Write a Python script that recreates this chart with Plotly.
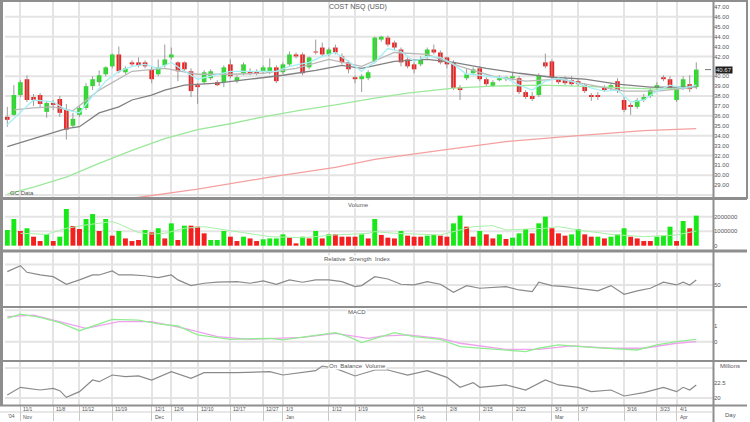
import plotly.graph_objects as go

W, H = 750, 422

# ---------------- data ----------------
opens = [35.9, 36.1, 38.1, 39.7, 37.9, 38.1, 36.4, 37.3, 37.7, 36.6,
         35.0, 36.1, 36.8, 39.0, 39.4, 40.2, 41.0, 42.2, 40.4, 41.4,
         41.4, 41.4, 40.7, 40.2, 41.1, 41.9, 41.4, 41.4, 40.5, 39.1,
         39.4, 39.8, 39.4, 39.4, 41.2, 39.5, 40.3, 40.5, 40.5, 40.5,
         40.4, 40.9, 40.4, 41.2, 42.2, 42.2, 40.9, 42.5, 42.9, 42.2,
         42.9, 42.0, 41.4, 39.9, 39.7, 39.8, 41.5, 43.7, 43.9, 43.4,
         42.7, 41.7, 41.2, 41.2, 42.0, 42.7, 42.4, 41.9, 41.4, 38.9,
         39.8, 40.3, 40.8, 39.7, 39.0, 39.6, 39.7, 39.8, 39.8, 38.4,
         38.0, 38.1, 41.4, 41.5, 39.7, 39.7, 39.6, 39.5, 39.1, 38.1,
         38.1, 38.9, 38.8, 39.5, 37.6, 37.1, 36.9, 37.6, 38.0, 38.8,
         39.9, 39.7, 37.6, 38.8, 39.2, 38.9]
highs = [36.9, 39.1, 39.6, 40.1, 38.2, 38.3, 37.5, 37.6, 38.0, 37.2,
         36.3, 37.0, 39.3, 40.0, 40.6, 41.0, 42.3, 43.0, 41.0, 41.6,
         41.9, 41.6, 41.0, 41.7, 43.2, 42.9, 41.5, 41.5, 40.8, 39.3,
         40.6, 40.7, 39.6, 41.1, 41.7, 40.1, 41.4, 40.8, 40.7, 41.1,
         41.8, 41.1, 41.4, 42.5, 42.4, 42.4, 42.0, 43.7, 43.4, 42.9,
         43.2, 42.3, 41.6, 40.1, 40.2, 40.6, 44.0, 44.1, 44.1, 43.6,
         42.9, 41.9, 41.4, 42.0, 42.9, 43.2, 42.6, 42.0, 41.6, 39.1,
         40.8, 40.9, 41.0, 39.9, 39.6, 40.1, 40.0, 40.4, 40.0, 38.6,
         38.4, 40.3, 42.3, 41.7, 39.9, 40.0, 40.0, 39.7, 39.3, 38.3,
         38.4, 39.1, 39.3, 39.8, 38.0, 37.3, 37.8, 38.2, 38.8, 39.4,
         40.1, 40.0, 38.9, 40.0, 40.1, 41.4]
lows = [34.9, 36.0, 37.9, 37.4, 37.0, 36.8, 35.8, 36.6, 35.9, 33.6,
        34.8, 35.9, 36.6, 38.6, 39.0, 40.0, 40.8, 40.3, 40.2, 41.0,
        40.9, 40.8, 39.3, 40.0, 40.9, 41.7, 39.5, 40.4, 37.9, 37.2,
        39.2, 39.6, 39.0, 38.9, 39.8, 39.3, 40.1, 40.1, 40.1, 40.3,
        40.2, 39.3, 40.2, 41.0, 41.8, 40.1, 40.7, 42.2, 42.0, 42.0,
        42.2, 41.2, 40.3, 39.3, 38.4, 39.6, 41.3, 43.5, 43.0, 42.6,
        41.0, 40.8, 40.3, 41.0, 41.8, 42.2, 41.2, 40.8, 38.6, 37.6,
        39.6, 40.1, 39.5, 39.0, 38.9, 39.5, 39.5, 39.6, 38.2, 37.7,
        37.5, 37.9, 40.8, 39.7, 39.2, 39.1, 39.0, 39.0, 38.3, 37.5,
        37.6, 38.4, 38.6, 38.3, 36.4, 36.1, 36.7, 37.4, 37.8, 38.6,
        39.5, 38.6, 37.4, 38.6, 38.4, 38.7]
closes = [35.6, 38.1, 39.4, 37.6, 37.6, 37.2, 37.3, 37.1, 36.3, 34.6,
          35.7, 36.8, 39.0, 39.7, 40.1, 40.9, 42.2, 40.5, 40.8, 41.2,
          41.1, 41.0, 39.7, 40.9, 41.7, 42.2, 40.5, 40.7, 38.5, 38.9,
          40.4, 40.5, 39.1, 40.9, 40.0, 39.9, 41.2, 40.3, 40.3, 40.9,
          40.9, 39.5, 41.2, 42.2, 42.0, 40.3, 41.9, 42.4, 42.2, 42.7,
          42.4, 41.4, 40.7, 39.7, 40.0, 40.4, 43.9, 44.0, 43.2, 42.9,
          41.4, 41.0, 40.7, 41.7, 42.7, 42.4, 41.4, 41.2, 38.8, 38.6,
          40.2, 40.7, 39.7, 39.2, 39.4, 39.8, 39.9, 40.0, 38.4, 37.9,
          37.7, 40.1, 41.0, 39.9, 39.4, 39.3, 39.2, 39.2, 38.5, 37.9,
          37.9, 38.6, 39.1, 38.5, 36.6, 36.9, 37.6, 37.9, 38.6, 39.1,
          39.7, 38.8, 38.7, 39.7, 38.7, 40.67]

volumes = [1080000, 1840000, 1010000, 1200000, 620000, 320000, 780000, 320000, 620000, 2530000,
           1360000, 1150000, 1840000, 2180000, 1010000, 1840000, 690000, 1010000, 500000, 320000,
           390000, 1080000, 920000, 1200000, 500000, 1540000, 390000, 1380000, 1380000, 1310000,
           850000, 390000, 390000, 1010000, 620000, 320000, 620000, 500000, 320000, 440000,
           500000, 500000, 780000, 550000, 160000, 620000, 500000, 1010000, 500000, 780000,
           780000, 620000, 620000, 620000, 780000, 500000, 1840000, 740000, 550000, 500000,
           1010000, 690000, 620000, 620000, 690000, 740000, 690000, 620000, 1540000, 2070000,
           1310000, 620000, 1010000, 780000, 500000, 780000, 460000, 550000, 850000, 1150000,
           850000, 1540000, 2000000, 1200000, 850000, 690000, 780000, 1150000, 780000, 620000,
           620000, 500000, 620000, 780000, 1200000, 620000, 500000, 320000, 320000, 620000,
           690000, 1310000, 320000, 1700000, 1200000, 2070000]
volume_up = [1, 1, 0, 1, 0, 0, 1, 0, 1, 1,
             0, 0, 1, 1, 0, 1, 0, 1, 0, 0,
             0, 1, 0, 1, 0, 1, 0, 1, 0, 0,
             0, 1, 1, 1, 0, 0, 1, 0, 0, 1,
             1, 1, 1, 0, 0, 1, 0, 1, 0, 1,
             0, 0, 0, 0, 1, 0, 1, 0, 0, 0,
             1, 0, 0, 0, 1, 1, 0, 0, 1, 1,
             0, 0, 1, 0, 0, 1, 0, 1, 1, 1,
             0, 1, 1, 0, 0, 0, 1, 1, 0, 0,
             1, 0, 1, 1, 1, 0, 0, 0, 0, 1,
             1, 1, 0, 1, 0, 1]

# moving averages (sampled where they were read)
ma5_idx = [0, 2, 4, 7, 9, 11, 13, 15, 17, 19, 21, 23, 25, 27, 29, 31, 34, 37, 41, 43, 46, 48, 50, 52, 54, 55,
           56, 58, 60, 62, 64, 66, 68, 70, 71, 73, 76, 78, 80, 82, 84, 86, 89, 91, 93, 95, 97, 99, 101, 103, 105]
ma5_val = [35.1, 36.3, 37.6, 37.4, 36.6, 36.3, 38.0, 39.5, 40.5, 41.0, 41.2, 40.8, 41.4, 40.5, 39.7, 40.0, 40.5,
           40.5, 40.5, 41.0, 41.4, 42.0, 42.4, 41.5, 40.5, 41.0, 41.4, 42.8, 42.5, 41.5, 42.0, 41.9, 41.2, 40.2,
           40.2, 40.0, 39.8, 39.1, 38.6, 39.5, 39.8, 39.5, 38.8, 38.5, 38.6, 37.4, 37.6, 38.5, 39.1, 38.8, 39.1]
ma10_idx = [1, 4, 7, 10, 14, 19, 24, 29, 34, 39, 44, 49, 54, 59, 64, 69, 74, 79, 84, 89, 94, 99, 105]
ma10_val = [36.6, 36.8, 36.9, 36.5, 38.6, 40.5, 40.8, 40.2, 40.2, 40.3, 40.8, 41.7, 41.0, 42.4, 42.2, 41.0,
            40.0, 39.5, 39.7, 39.1, 38.5, 38.5, 38.9]
ma20_idx = [0, 4, 9, 11, 14, 17, 19, 22, 24, 27, 32, 37, 42, 47, 51, 54, 56, 59, 64, 68, 73, 78, 83, 88, 93, 98, 105]
ma20_val = [32.9, 33.7, 34.7, 34.9, 36.3, 36.9, 37.6, 38.1, 38.6, 39.1, 39.3, 39.7, 40.1, 40.6, 41.1, 40.8, 41.1,
            41.5, 41.7, 41.4, 40.8, 40.3, 39.9, 39.7, 39.2, 38.9, 38.9]
ma50_idx = [0, 4, 9, 14, 19, 24, 29, 34, 39, 45, 50, 56, 61, 68, 74, 81, 87, 94, 99, 105]
ma50_val = [28.1, 28.8, 29.8, 31.2, 32.5, 33.7, 34.6, 35.2, 35.9, 36.6, 37.1, 37.8, 38.3, 38.8, 39.0, 39.1,
            39.0, 38.8, 38.7, 38.9]
ma200_idx = [18, 21, 29, 40, 50, 56, 66, 76, 87, 97, 105]
ma200_val = [27.6, 27.85, 28.6, 29.8, 30.8, 31.6, 32.5, 33.4, 34.0, 34.5, 34.7]

volma_idx = [2, 6, 9, 12, 16, 17, 20, 22, 24, 27, 30, 35, 40, 45, 50, 55, 56, 59, 66, 71, 74, 76, 82, 84, 87, 92,
             97, 102, 105]
volma_val = [850000, 780000, 1200000, 1430000, 1660000, 1500000, 900000, 800000, 850000, 1200000, 1310000,
             970000, 620000, 550000, 740000, 850000, 970000, 850000, 740000, 1310000, 1380000, 1080000,
             1200000, 1310000, 1080000, 780000, 620000, 740000, 1010000]

rsi_idx = [0, 2, 3, 5, 7, 9, 11, 13, 14, 16, 17, 19, 21, 23, 25, 26, 28, 30, 32, 35, 37, 39, 41, 43, 45, 47, 49,
           51, 53, 54, 56, 58, 60, 62, 64, 66, 68, 70, 72, 74, 76, 78, 80, 81, 83, 85, 88, 90, 92, 94, 96, 98,
           100, 102, 103, 104, 105]
rsi_val = [69.6, 78.4, 68.6, 64.7, 62.2, 51.0, 57.4, 64.7, 64.7, 70.6, 64.7, 64.7, 63.5, 60.8, 64.7, 57.4, 49.0,
           52.5, 54.0, 54.9, 52.5, 55.9, 51.0, 57.4, 54.0, 57.4, 57.4, 54.9, 47.5, 49.0, 62.2, 58.8, 51.0, 50.0,
           54.9, 51.0, 39.3, 49.0, 45.1, 46.1, 47.5, 42.6, 40.2, 54.0, 49.0, 47.5, 44.1, 41.2, 49.0, 36.3, 41.2,
           45.1, 54.0, 50.0, 54.0, 50.0, 57.4]

macd_idx = [0, 2, 5, 8, 11, 13, 16, 20, 23, 26, 29, 34, 40, 42, 47, 50, 52, 54, 56, 59, 62, 66, 69, 74, 79, 81,
            84, 89, 94, 96, 99, 102, 105]
macd_val = [1.49, 1.76, 1.55, 1.21, 0.70, 1.0, 1.42, 1.38, 1.13, 1.0, 0.43, 0.15, 0.21, 0.11, 0.43, 0.58, 0.32,
            -0.06, 0.2, 0.58, 0.32, 0.15, -0.32, -0.49, -0.63, -0.42, -0.21, -0.36, -0.49, -0.53, -0.21, 0.0, 0.15]
signal_idx = [0, 4, 9, 12, 17, 22, 27, 32, 37, 45, 50, 55, 57, 61, 66, 69, 76, 81, 86, 92, 97, 102, 105]
signal_val = [1.6, 1.7, 1.17, 0.85, 1.28, 1.28, 0.85, 0.32, 0.15, 0.28, 0.53, 0.21, 0.36, 0.43, 0.21, -0.1,
              -0.49, -0.49, -0.27, -0.42, -0.42, -0.1, 0.0]

obv_idx = [0, 2, 5, 7, 8, 9, 11, 13, 14, 16, 18, 20, 22, 25, 28, 30, 35, 40, 42, 45, 47, 48, 50, 53, 56, 58, 61,
           64, 67, 69, 71, 72, 76, 79, 82, 84, 87, 89, 92, 94, 97, 100, 102, 103, 104, 105]
obv_val = [20.5, 21.78, 21.33, 21.61, 21.22, 20.11, 21.06, 23.0, 22.72, 23.83, 23.56, 23.67, 23.0, 24.39, 23.28,
           24.22, 24.22, 24.39, 23.83, 24.22, 24.56, 25.33, 24.94, 23.67, 24.67, 24.67, 23.83, 24.56, 23.44,
           21.78, 22.56, 21.78, 22.17, 21.33, 23.0, 22.17, 21.78, 21.06, 21.33, 20.33, 20.89, 21.78, 21.06,
           21.78, 21.33, 22.17]

tick_idx = [2, 7, 11, 16, 22, 25, 29, 34, 39, 42, 49, 53, 62, 67, 72, 77, 83, 87, 94, 99, 102]
tick_text = ["11/1", "11/8", "11/12", "11/19", "12/1", "12/6", "12/10", "12/17", "12/27", "1/3", "1/12",
             "1/19", "2/1", "2/8", "2/15", "2/22", "3/1", "3/7", "3/16", "3/23", "4/1"]
month_idx = [2, 22, 42, 62, 83, 102]
month_text = ["Nov", "Dec", "Jan", "Feb", "Mar", "Apr"]

price_ticks = list(range(29, 48))
vol_ticks = [0, 1000000, 2000000]
rsi_ticks = [50]
macd_ticks = [0, 1]
obv_ticks = [20, 22.5]
obv_tick_text = ["20", "22.5"]

# ---------------- figure ----------------
GREEN = "#18e818"
RED = "#f42020"
GRID = "#e4e4e4"
FRAME = "#8e8e8e"
FONT = "Liberation Sans"
TXT = "#555555"

n = len(closes)
idx = list(range(n))


def py(p):
    return 1 - p / H


def px(p):
    return p / W


fig = go.Figure()

# price panel: wicks
wx, wy = [], []
for i, (hi, lo) in enumerate(zip(highs, lows)):
    wx += [i, i, None]
    wy += [lo, hi, None]
fig.add_trace(go.Scatter(x=wx, y=wy, mode="lines", line=dict(color="#9a9a9a", width=1),
                         xaxis="x", yaxis="y", hoverinfo="skip"))

# moving averages
for xs, ys, col in [(ma200_idx, ma200_val, "#f4a0a0"), (ma50_idx, ma50_val, "#9be89b"),
                    (ma20_idx, ma20_val, "#808080"), (ma10_idx, ma10_val, "#b8b8b8"),
                    (ma5_idx, ma5_val, "#a6eef4")]:
    fig.add_trace(go.Scatter(x=xs, y=ys, mode="lines", line=dict(color=col, width=1.3),
                             xaxis="x", yaxis="y", hoverinfo="skip"))

# bodies
body_base = [min(o, c) for o, c in zip(opens, closes)]
body_h = [abs(c - o) for o, c in zip(opens, closes)]
body_col = [GREEN if c >= o else RED for o, c in zip(opens, closes)]
fig.add_trace(go.Bar(x=idx, y=body_h, base=body_base, width=0.7, marker=dict(color=body_col, line=dict(width=0)),
                     xaxis="x", yaxis="y", hoverinfo="skip"))

# volume
vol_col = [GREEN if u else RED for u in volume_up]
fig.add_trace(go.Bar(x=idx, y=volumes, width=0.75, marker=dict(color=vol_col, line=dict(width=0)),
                     xaxis="x2", yaxis="y2", hoverinfo="skip"))
fig.add_trace(go.Scatter(x=volma_idx, y=volma_val, mode="lines", line=dict(color="#a8f0a8", width=1),
                         xaxis="x2", yaxis="y2", hoverinfo="skip"))

# RSI
fig.add_trace(go.Scatter(x=rsi_idx, y=rsi_val, mode="lines", line=dict(color="#8a8a8a", width=1.2),
                         xaxis="x3", yaxis="y3", hoverinfo="skip"))
# MACD
fig.add_trace(go.Scatter(x=signal_idx, y=signal_val, mode="lines", line=dict(color="#f0a0f0", width=1.3),
                         xaxis="x4", yaxis="y4", hoverinfo="skip"))
fig.add_trace(go.Scatter(x=macd_idx, y=macd_val, mode="lines", line=dict(color="#90ee90", width=1.3),
                         xaxis="x4", yaxis="y4", hoverinfo="skip"))
# OBV
fig.add_trace(go.Scatter(x=obv_idx, y=obv_val, mode="lines", line=dict(color="#8a8a8a", width=1.2),
                         xaxis="x5", yaxis="y5", hoverinfo="skip"))

XDOM = [px(5), px(713)]
XR = [-0.35, 107.55]
domains = {
    "": [py(197), py(2)],
    "2": [py(249), py(200)],
    "3": [py(306), py(253)],
    "4": [py(360), py(308)],
    "5": [py(405), py(362)],
}
yranges = {"": [27.8, 47.5], "2": [-230000, 3150000], "3": [19, 97], "4": [-1.17, 2.15], "5": [18.83, 26.0]}
# the last-price box covers the price label closest to it, as in the reference
shown_price_ticks = [v for v in price_ticks if abs(v - closes[-1]) > 0.5]
ytickvals = {"": shown_price_ticks, "2": vol_ticks, "3": rsi_ticks, "4": macd_ticks, "5": obv_ticks}
ytext = {"": [f"{v:.2f}" for v in shown_price_ticks], "2": [str(v) for v in vol_ticks],
         "3": [str(v) for v in rsi_ticks], "4": [str(v) for v in macd_ticks], "5": obv_tick_text}

layout = dict(width=W, height=H, margin=dict(l=0, r=0, t=0, b=0, autoexpand=False), paper_bgcolor="white",
              plot_bgcolor="white", showlegend=False, barmode="overlay",
              font=dict(family=FONT, size=6, color=TXT))
for k in ["", "2", "3", "4", "5"]:
    xa = dict(domain=XDOM, range=XR, anchor="y" + k, showticklabels=False, tickmode="array",
              tickvals=tick_idx, showgrid=True, gridcolor=GRID, gridwidth=2, zeroline=False,
              showline=False, ticks="", automargin=False)
    if k != "":
        xa["matches"] = "x"
    if k == "5":
        xa.update(ticks="outside", ticklen=15, tickcolor="#c8c8c8", tickwidth=1)
    layout["xaxis" + k] = xa
    layout["yaxis" + k] = dict(domain=domains[k], range=yranges[k], anchor="x" + k, side="right",
                               tickmode="array", tickvals=ytickvals[k], ticktext=ytext[k],
                               showgrid=False, zeroline=False, showline=False, ticks="", automargin=False,
                               tickfont=dict(size=6, color=TXT, family=FONT))
fig.update_layout(**layout)

# horizontal gridlines
grid_levels = {"": list(range(28, 48, 2)), "2": [1000000, 2000000], "3": [50, 80], "4": [0, 2], "5": [20, 25]}
shapes = []
for k, levels in grid_levels.items():
    for v in levels:
        shapes.append(dict(type="line", xref="paper", yref="y" + k, x0=XDOM[0], x1=XDOM[1], y0=v, y1=v,
                           line=dict(color=GRID, width=2), layer="below"))
# frame and separators
for yy, wdt in [(1, 2), (198.5, 3), (251, 3), (307, 2), (361, 2), (405.5, 2)]:
    shapes.append(dict(type="line", xref="paper", yref="paper", x0=0, x1=px(747), y0=py(yy), y1=py(yy),
                       line=dict(color=FRAME, width=wdt)))
shapes.append(dict(type="line", xref="paper", yref="paper", x0=px(1.5), x1=px(1.5), y0=py(0), y1=py(406),
                   line=dict(color=FRAME, width=3)))
shapes.append(dict(type="line", xref="paper", yref="paper", x0=px(713.5), x1=px(713.5), y0=py(0), y1=py(422),
                   line=dict(color=FRAME, width=2)))
shapes.append(dict(type="line", xref="paper", yref="paper", x0=px(747), x1=px(747), y0=py(0), y1=py(199),
                   line=dict(color=FRAME, width=2)))
shapes.append(dict(type="line", xref="paper", yref="paper", x0=0, x1=px(713), y0=py(412), y1=py(412),
                   line=dict(color="#d0d0d0", width=1)))
# last price dash
shapes.append(dict(type="line", xref="paper", yref="y", x0=px(705), x1=px(711), y0=closes[-1], y1=closes[-1],
                   line=dict(color="#777777", width=1)))
fig.update_layout(shapes=shapes)

ann = []


def text(x, y, s, anchor="center", size=6, bg=None, color=TXT):
    d = dict(xref="paper", yref="paper", x=px(x), y=py(y), text=s, showarrow=False, xanchor=anchor,
             yanchor="middle", font=dict(size=size, color=color, family=FONT), borderpad=0)
    if bg:
        d["bgcolor"] = bg
    return d


ann.append(text(358, 7, "COST NSQ (USD)", size=7))
ann.append(text(358, 205, "Volume", bg="white"))
ann.append(text(357, 259, "Relative  Strength  Index", bg="white"))
ann.append(text(357, 312, "MACD", bg="white"))
ann.append(text(357, 366, "On  Balance  Volume", bg="white"))
ann.append(text(9, 193, "GC Data", anchor="left"))
ann.append(text(719, 366, "Millions", anchor="left"))
ann.append(text(724, 415, "Day", anchor="left"))
ann.append(text(7, 416, "'04", anchor="left", size=5))
# last price box
ann.append(dict(xref="paper", yref="y", x=px(715), y=closes[-1], text=f"{closes[-1]:.2f}", showarrow=False,
                xanchor="left", yanchor="middle", bgcolor="#1e1e1e", borderpad=0,
                font=dict(size=6, color="#e0e0e0", family=FONT)))
# x tick labels
for i, t in zip(tick_idx, tick_text):
    ann.append(dict(xref="x5", yref="paper", x=i, y=py(408.5), text=t, showarrow=False, xanchor="left",
                    xshift=1, yanchor="middle", font=dict(size=5, color=TXT, family=FONT)))
for i, t in zip(month_idx, month_text):
    ann.append(dict(xref="x5", yref="paper", x=i, y=py(416.5), text=t, showarrow=False, xanchor="left",
                    xshift=1, yanchor="middle", font=dict(size=5, color=TXT, family=FONT)))
fig.update_layout(annotations=ann)

# the page's default body margin would offset the chart; remove it
fig.write_html("out.html", config={"displayModeBar": False, "staticPlot": True},
               post_script="document.body.style.margin='0px';document.body.style.overflow='hidden';")
